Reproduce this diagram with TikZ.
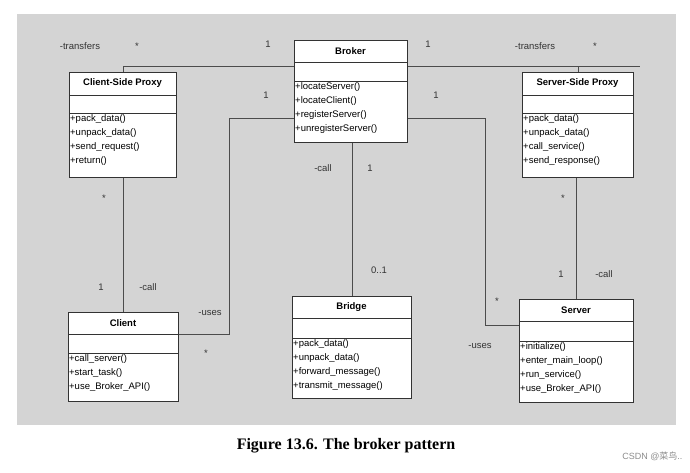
\documentclass[tikz,border=0pt]{standalone}
\usepackage{fontspec}
\setmainfont{Liberation Sans}
\newfontfamily\capfont{Liberation Serif}
\newfontfamily\cjk{Noto Sans CJK SC}
\begin{document}
\begin{tikzpicture}[x=1pt,y=-1pt,
  box/.style={draw=black!80,line width=1pt,fill=white,anchor=north west,inner sep=0},
  ttl/.style={font=\fontsize{9.5}{11}\selectfont\bfseries},
  meth/.style={font=\fontsize{9.5}{14}\selectfont,align=left,anchor=north west,inner sep=1pt},
  lbl/.style={font=\fontsize{9.5}{11}\selectfont,text=black!80},
  conn/.style={draw=black!70,line width=0.6pt}]
\useasboundingbox (0,0) rectangle (690,472);
\fill[black!17] (17,14) rectangle (676,425);
\newcommand\umlbox[9]{%
  \node[box,minimum width=#4-#2,minimum height=#8-#3] (#1) at (#2,#3) {};
  \draw[black!80,line width=1pt] (#2,#6) -- (#4,#6) (#2,#7) -- (#4,#7);
  \node[ttl] (#1t) at ({(#2+#4)/2},{(#3+#6)/2}) {#5};
  \node[meth] (#1m) at (#2,#7) {#9};}
\umlbox{broker}{294}{40}{407}{Broker}{62}{81}{142}{+locateServer()\\+locateClient()\\+registerServer()\\+unregisterServer()}
\umlbox{csp}{69}{72}{176}{Client-Side Proxy}{95}{113}{177}{+pack\_data()\\+unpack\_data()\\+send\_request()\\+return()}
\umlbox{ssp}{522}{72}{633}{Server-Side Proxy}{95}{113}{177}{+pack\_data()\\+unpack\_data()\\+call\_service()\\+send\_response()}
\umlbox{client}{68}{312}{178}{Client}{334}{353}{401}{+call\_server()\\+start\_task()\\+use\_Broker\_API()}
\umlbox{bridge}{292}{296}{411}{Bridge}{318}{338}{398}{+pack\_data()\\+unpack\_data()\\+forward\_message()\\+transmit\_message()}
\umlbox{server}{519}{299}{633}{Server}{321}{341}{402}{+initialize()\\+enter\_main\_loop()\\+run\_service()\\+use\_Broker\_API()}
\coordinate (e1) at (640,66);
\draw[conn] (csp.north) -- (csp.north |- e1) -- (broker.west |- e1);
\draw[conn] (broker.east |- e1) -- (e1);
\draw[conn] (ssp.north) -- (ssp.north |- e1);
\draw[conn] (csp.south -| client.north) -- (client.north);
\draw[conn] (broker.west |- 0,118) -- (229,118) -- (229,334) -- (client.east |- 0,334);
\draw[conn] (broker.east |- 0,118) -- (485,118) -- (485,325) -- (server.west |- 0,325);
\draw[conn] (broker.south -| bridge.north) -- (bridge.north);
\draw[conn] (ssp.south -| server.north) -- (server.north);
\node[lbl] at (80,46) {-transfers};
\node[lbl] at (137,46) {*};
\node[lbl] at (268,44) {1};
\node[lbl] at (428,44) {1};
\node[lbl] at (535,46) {-transfers};
\node[lbl] at (595,46) {*};
\node[lbl] at (266,95) {1};
\node[lbl] at (436,95) {1};
\node[lbl] at (323,168) {-call};
\node[lbl] at (370,168) {1};
\node[lbl] at (104,198) {*};
\node[lbl] at (101,287) {1};
\node[lbl] at (148,287) {-call};
\node[lbl] at (210,313) {-uses};
\node[lbl] at (206,353) {*};
\node[lbl] at (379,270) {0..1};
\node[lbl] at (563,198) {*};
\node[lbl] at (561,274) {1};
\node[lbl] at (604,274) {-call};
\node[lbl] at (497,301) {*};
\node[lbl] at (480,346) {-uses};
\node[font=\capfont\fontsize{16}{18}\selectfont\bfseries] at (346,446) {Figure 13.6. The broker pattern};
\node[font=\fontsize{9}{10}\selectfont,text=black!45,anchor=east] at (686,456) {CSDN @{\cjk 菜鸟}..};
\end{tikzpicture}
\end{document}
